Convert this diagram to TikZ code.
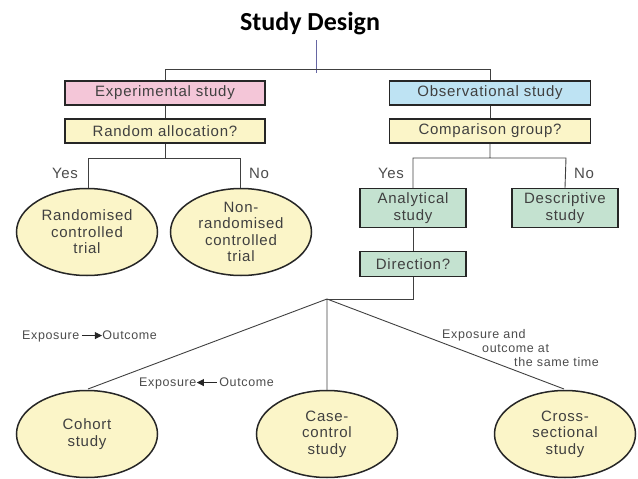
\documentclass[tikz,border=0pt]{standalone}
\usetikzlibrary{shapes.geometric,arrows.meta}
\usepackage{fontspec}
\setmainfont{Liberation Sans}[LetterSpace=5]
\newfontfamily\titlefont{Carlito}
\begin{document}
\begin{tikzpicture}[x=1pt,y=-1pt,
  txt/.style={text=black!75,font=\fontsize{15}{16.5}\selectfont,align=center},
  box/.style={txt,draw=black!85,line width=1.5pt,rectangle,inner sep=0pt},
  ell/.style={txt,draw=black!85,line width=1.5pt,ellipse,fill=yellowc,inner sep=0pt,minimum width=141pt,minimum height=87pt},
  ln/.style={draw=black!75,line width=0.9pt},
  lab/.style={text=black!70,font=\fontsize{12.5}{14}\selectfont,inner sep=0pt}]
\definecolor{pinkc}{HTML}{F4C6D8}
\definecolor{bluec}{HTML}{BEE3F3}
\definecolor{yellowc}{HTML}{FBF5C8}
\definecolor{greenc}{HTML}{C4E2D0}
\useasboundingbox (0,0) rectangle (638,479);
\node[font=\titlefont\bfseries\fontsize{26}{28}\selectfont] (title) at (310,24) {Study Design};
\node[box,fill=pinkc,minimum width=200pt,minimum height=24pt] (exp) at (165,93) {Experimental study};
\node[box,fill=yellowc,minimum width=200pt,minimum height=24pt] (rand) at (165,131) {Random allocation?};
\node[box,fill=bluec,minimum width=201pt,minimum height=24pt] (obs) at (490,93) {Observational study};
\node[box,fill=yellowc,minimum width=201pt,minimum height=24pt] (comp) at (490,131) {Comparison group?};
\node[ell] at (87,232) (rct) {Randomised\\controlled\\trial};
\node[ell] at (241,232) (nrct) {Non-\\randomised\\controlled\\trial};
\node[box,fill=greenc,minimum width=106pt,minimum height=39pt] (ana) at (413,208) {Analytical\\study};
\node[box,fill=greenc,minimum width=106pt,minimum height=39pt] (desc) at (565,208) {Descriptive\\study};
\node[box,fill=greenc,minimum width=106pt,minimum height=25pt] (dir) at (413,264) {Direction?};
\node[ell] at (87,434) (coh) {Cohort\\study};
\node[ell] at (327,434) (case) {Case-\\control\\study};
\node[ell] at (565,434) (cross) {Cross-\\sectional\\study};
\coordinate (apex) at (327,299);
\draw[draw=blue!40!black!60,line width=0.8pt] (316,40) -- (316,73);
\draw[ln] (exp.north) -- (165,69) -- (490,69) -- (obs.north);
\draw[ln] (exp) -- (rand) (obs) -- (comp);
\draw[ln] (rand.south) -- (165,158) (88,188) -- (88,158) -- (240,158) -- (240,188);
\draw[ln] (comp.south) -- (490,158) (ana.north) -- (413,158) -- (566,158) -- (desc.north);
\draw[ln] (ana) -- (dir);
\draw[ln] (dir.south) -- (413,299) -- (apex);
\draw[ln] (apex) -- (88,389) (apex) -- (case.north) (apex) -- (564,389);
\node[lab] (yes1) at (65,173) {\fontsize{15}{16}\selectfont Yes};
\node[lab] (no1) at (259,173) {\fontsize{15}{16}\selectfont No};
\node[lab] (yes2) at (391,173) {\fontsize{15}{16}\selectfont Yes};
\node[lab] (no2) at (584,173) {\fontsize{15}{16}\selectfont No};
\node[lab,anchor=west] (eo) at (22,336) {Exposure\,\tikz[baseline=-3.5pt]\draw[-{Triangle[length=7pt,width=7pt]},black!85,line width=0.9pt](0,0)--(20pt,0);Outcome};
\node[lab,anchor=west] (oe) at (139,383) {Exposure\tikz[baseline=-3.5pt]\draw[{Triangle[length=7pt,width=7pt]}-,black!85,line width=0.9pt](0,0)--(20pt,0);\,Outcome};
\node[lab,align=left,anchor=north west] (same) at (442,329) {Exposure and\\\hspace*{40pt}outcome at\\\hspace*{72pt}the same time};
\end{tikzpicture}
\end{document}
